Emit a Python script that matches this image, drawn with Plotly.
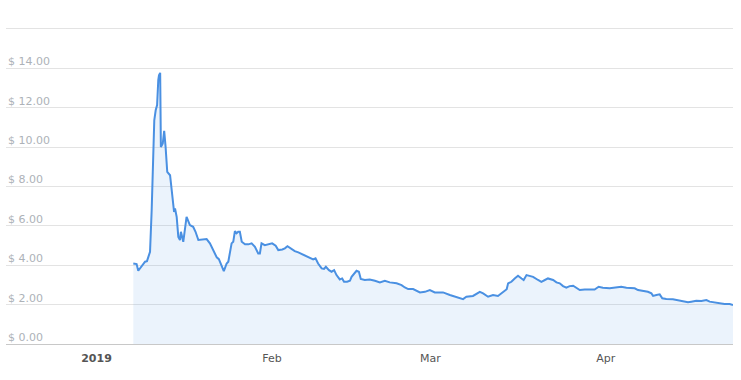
import plotly.graph_objects as go

dates = [
    "2019-01-07 12:00", "2019-01-08 02:00", "2019-01-08 09:00", "2019-01-08 23:00",
    "2019-01-09 14:00", "2019-01-09 22:00", "2019-01-10 11:00", "2019-01-10 18:00",
    "2019-01-11 05:00", "2019-01-11 11:00", "2019-01-11 17:00", "2019-01-11 22:00",
    "2019-01-12 01:00", "2019-01-12 06:00", "2019-01-12 09:00", "2019-01-12 17:00",
    "2019-01-12 23:00", "2019-01-13 05:00", "2019-01-13 12:00", "2019-01-14 00:00",
    "2019-01-14 07:00", "2019-01-14 17:00", "2019-01-14 21:00", "2019-01-15 04:00",
    "2019-01-15 11:00", "2019-01-15 18:00", "2019-01-15 22:00", "2019-01-16 08:00",
    "2019-01-16 22:00", "2019-01-17 12:00", "2019-01-18 02:00", "2019-01-18 12:00",
    "2019-01-19 00:00", "2019-01-19 21:00", "2019-01-20 11:00", "2019-01-21 01:00",
    "2019-01-21 15:00", "2019-01-22 06:00", "2019-01-22 15:00", "2019-01-23 03:00",
    "2019-01-23 12:00", "2019-01-24 00:00", "2019-01-24 07:00", "2019-01-24 21:00",
    "2019-01-25 04:00", "2019-01-25 11:00", "2019-01-25 18:00", "2019-01-26 01:00",
    "2019-01-26 08:00", "2019-01-26 16:00", "2019-01-27 06:00", "2019-01-27 20:00",
    "2019-01-28 10:00", "2019-01-29 00:00", "2019-01-29 14:00", "2019-01-29 21:00",
    "2019-01-30 04:00", "2019-01-30 18:00", "2019-01-31 08:00", "2019-02-01 01:00",
    "2019-02-01 16:00", "2019-02-02 03:00", "2019-02-02 20:00", "2019-02-03 07:00",
    "2019-02-03 18:00", "2019-02-04 12:00", "2019-02-05 01:00", "2019-02-05 16:00",
    "2019-02-06 06:00", "2019-02-06 20:00", "2019-02-07 17:00", "2019-02-08 07:00",
    "2019-02-08 17:00", "2019-02-09 04:00", "2019-02-09 19:00", "2019-02-10 05:00",
    "2019-02-10 13:00", "2019-02-11 02:00", "2019-02-11 13:00", "2019-02-12 00:00",
    "2019-02-12 10:00", "2019-02-13 00:00", "2019-02-13 10:00", "2019-02-13 18:00",
    "2019-02-14 07:00", "2019-02-14 19:00", "2019-02-15 02:00", "2019-02-15 12:00",
    "2019-02-15 23:00", "2019-02-16 09:00", "2019-02-16 17:00", "2019-02-17 10:00",
    "2019-02-18 07:00", "2019-02-19 05:00", "2019-02-20 02:00", "2019-02-20 23:00",
    "2019-02-21 20:00", "2019-02-23 01:00", "2019-02-23 22:00", "2019-02-24 12:00",
    "2019-02-25 02:00", "2019-02-25 23:00", "2019-02-27 04:00", "2019-02-28 01:00",
    "2019-02-28 22:00", "2019-03-01 19:00", "2019-03-03 06:00", "2019-03-04 11:00",
    "2019-03-05 15:00", "2019-03-06 19:00", "2019-03-07 09:00", "2019-03-08 13:00",
    "2019-03-09 18:00", "2019-03-10 08:00", "2019-03-11 05:00", "2019-03-12 02:00",
    "2019-03-12 23:00", "2019-03-13 14:00", "2019-03-13 23:00", "2019-03-14 12:00",
    "2019-03-14 18:00", "2019-03-15 08:00", "2019-03-15 22:00", "2019-03-16 12:00",
    "2019-03-17 03:00", "2019-03-17 12:00", "2019-03-18 00:00", "2019-03-18 14:00",
    "2019-03-19 04:00", "2019-03-20 01:00", "2019-03-20 15:00", "2019-03-21 06:00",
    "2019-03-21 19:00", "2019-03-22 17:00", "2019-03-23 07:00", "2019-03-23 21:00",
    "2019-03-24 11:00", "2019-03-25 01:00", "2019-03-25 15:00", "2019-03-26 06:00",
    "2019-03-26 20:00", "2019-03-27 10:00", "2019-03-28 07:00", "2019-03-29 04:00",
    "2019-03-30 01:00", "2019-03-30 18:00", "2019-03-31 12:00", "2019-04-01 17:00",
    "2019-04-02 21:00", "2019-04-03 18:00", "2019-04-04 16:00", "2019-04-06 03:00",
    "2019-04-06 17:00", "2019-04-07 14:00", "2019-04-08 11:00", "2019-04-09 02:00",
    "2019-04-09 09:00", "2019-04-09 23:00", "2019-04-10 13:00", "2019-04-11 00:00",
    "2019-04-11 17:00", "2019-04-12 21:00", "2019-04-13 18:00", "2019-04-14 16:00",
    "2019-04-15 13:00", "2019-04-16 03:00", "2019-04-17 00:00", "2019-04-17 22:00",
    "2019-04-18 19:00", "2019-04-19 09:00", "2019-04-20 06:00", "2019-04-21 03:00",
    "2019-04-22 00:00", "2019-04-22 22:00", "2019-04-23 12:00",
]

prices = [
    4.09, 4.06, 3.72, 3.92,
    4.18, 4.21, 4.68, 6.80,
    11.36, 11.87, 12.13, 13.40,
    13.65, 13.77, 10.01, 10.18,
    10.82, 10.01, 8.74, 8.57,
    7.65, 6.71, 6.88, 6.46,
    5.44, 5.28, 5.70, 5.19,
    6.46, 6.04, 5.95, 5.70,
    5.28, 5.33, 5.33, 5.11,
    4.77, 4.40, 4.31, 4.01,
    3.70, 4.09, 4.18, 5.11,
    5.19, 5.73, 5.62, 5.70,
    5.70, 5.19, 5.06, 5.06,
    5.11, 4.94, 4.60, 4.60,
    5.11, 5.02, 5.06, 5.11,
    4.99, 4.77, 4.80, 4.86,
    4.97, 4.82, 4.72, 4.65,
    4.57, 4.48, 4.40, 4.30,
    4.35, 4.09, 3.84, 3.81,
    3.92, 3.75, 3.67, 3.75,
    3.50, 3.28, 3.33, 3.16,
    3.16, 3.21, 3.41, 3.59,
    3.72, 3.67, 3.30, 3.25,
    3.28, 3.21, 3.13, 3.21,
    3.13, 3.08, 2.99, 2.87,
    2.79, 2.79, 2.62, 2.65,
    2.74, 2.62, 2.62, 2.49,
    2.40, 2.28, 2.40, 2.44,
    2.65, 2.57, 2.40, 2.49,
    2.44, 2.57, 2.68, 2.78,
    3.08, 3.16, 3.33, 3.47,
    3.33, 3.25, 3.50, 3.47,
    3.41, 3.25, 3.16, 3.25,
    3.33, 3.25, 3.13, 3.08,
    2.94, 2.86, 2.94, 2.96,
    2.83, 2.74, 2.77, 2.77,
    2.77, 2.91, 2.86, 2.83,
    2.88, 2.91, 2.86, 2.83,
    2.74, 2.70, 2.65, 2.57,
    2.44, 2.49, 2.52, 2.32,
    2.28, 2.27, 2.23, 2.15,
    2.12, 2.15, 2.20, 2.18,
    2.23, 2.15, 2.10, 2.06,
    2.03, 2.03, 1.98,
]

x_tick_vals = ["2019-01-01", "2019-02-01", "2019-03-01", "2019-04-01"]
x_tick_text = ["<b>2019</b>", "Feb", "Mar", "Apr"]
y_grid_vals = [0, 2, 4, 6, 8, 10, 12, 14, 16]
y_label_vals = [0, 2, 4, 6, 8, 10, 12, 14]
y_label_text = ["$ 0.00", "$ 2.00", "$ 4.00", "$ 6.00", "$ 8.00",
                "$ 10.00", "$ 12.00", "$ 14.00"]
x_range = ["2018-12-16 00:00", "2019-04-23 12:00"]
y_range = [0, 16.2]

fig = go.Figure()
fig.add_trace(go.Scatter(
    x=dates, y=prices, mode="lines",
    line=dict(color="#4a90e2", width=2),
    fill="tozeroy", fillcolor="rgba(74,144,226,0.11)",
    hoverinfo="skip",
))

for v, t in zip(y_label_vals, y_label_text):
    fig.add_annotation(
        x=0, xref="paper", y=v, yref="y",
        text=t, showarrow=False,
        xanchor="left", yanchor="bottom", xshift=0, yshift=-2,
        font=dict(family="DejaVu Sans", size=11, color="#adb2b8"),
    )

fig.update_layout(
    width=741, height=380,
    margin=dict(l=6, r=8, t=25, b=36),
    paper_bgcolor="white", plot_bgcolor="white",
    showlegend=False,
    font=dict(family="DejaVu Sans", size=11, color="#aaaaaa"),
)
fig.update_xaxes(
    type="date", range=x_range,
    tickvals=x_tick_vals, ticktext=x_tick_text,
    showgrid=False, zeroline=False,
    showline=True, linecolor="#c8c8c8", linewidth=1,
    ticks="", ticklabelstandoff=4,
    tickfont=dict(family="DejaVu Sans", size=11, color="#555555"),
)
fig.update_yaxes(
    range=y_range, tickvals=y_grid_vals, showticklabels=False,
    showgrid=True, gridcolor="#e3e3e3", gridwidth=1,
    zeroline=False, showline=False,
)

fig.write_html("out.html")
